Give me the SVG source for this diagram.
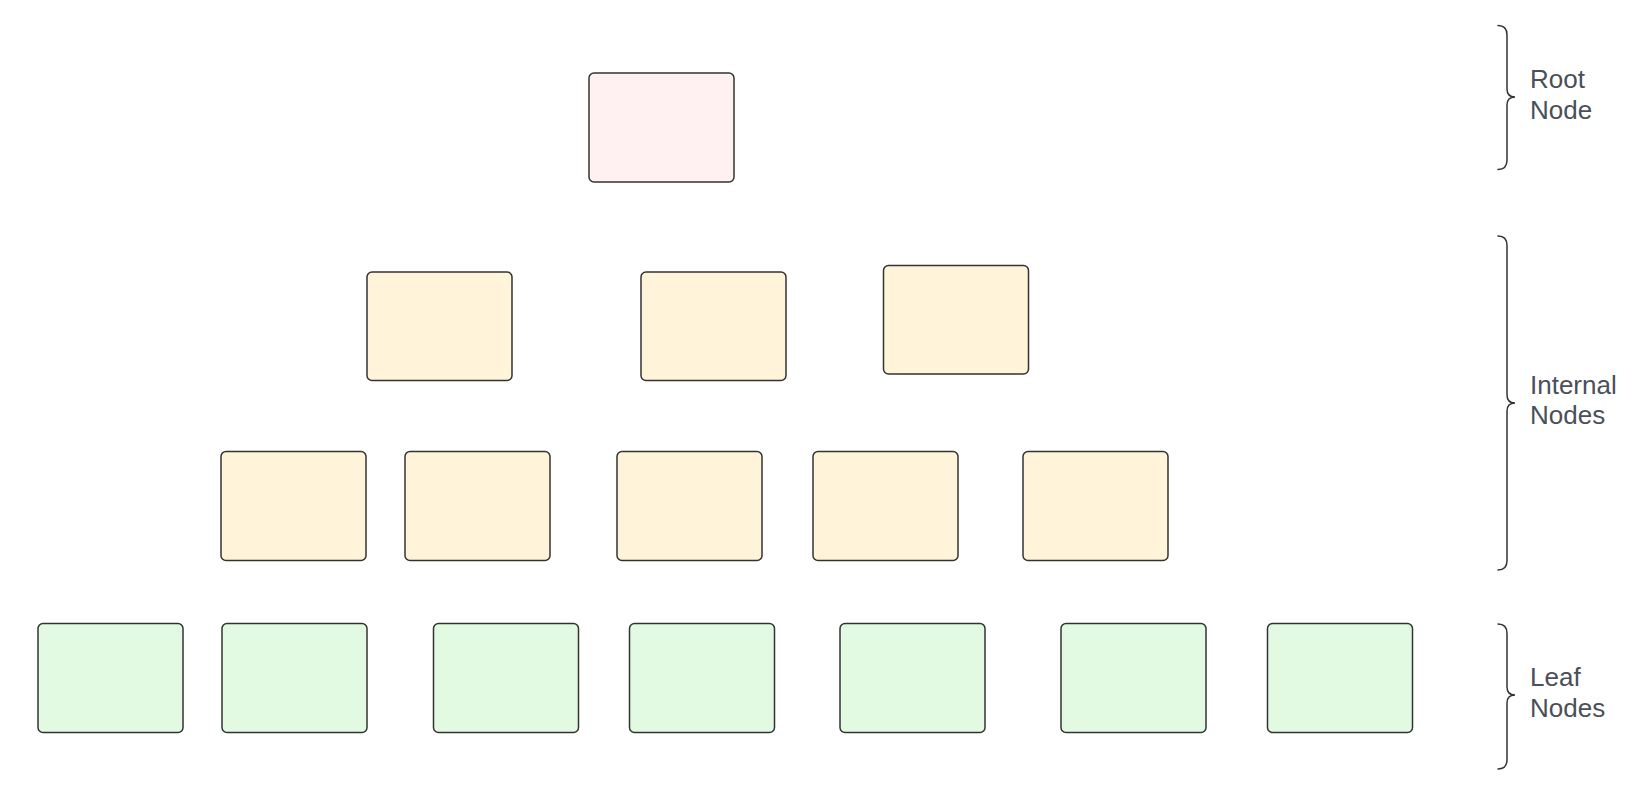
<svg xmlns="http://www.w3.org/2000/svg" width="1640" height="800" viewBox="0 0 1640 800">
<style>
.node rect{stroke:#333333;stroke-width:1.5;}
.root rect{fill:#fff0f1;}
.internal rect{fill:#fff3da;}
.leaf rect{fill:#e2fae2;}
.brace{fill:none;stroke:#333333;stroke-width:1.5;stroke-linecap:round;}
.lbl{font-family:"Liberation Sans",Arial,sans-serif;font-size:26px;fill:#4a4f59;}
</style>
<rect width="1640" height="800" fill="#ffffff"/>
<g id="root-node" class="node root"><rect x="589" y="73" width="145" height="109" rx="5"/></g>
<g id="internal-1" class="node internal"><rect x="367" y="272" width="145" height="108.5" rx="5"/></g>
<g id="internal-2" class="node internal"><rect x="641" y="272" width="145" height="108.5" rx="5"/></g>
<g id="internal-3" class="node internal"><rect x="883.5" y="265.5" width="145" height="108.5" rx="5"/></g>
<g id="internal-4" class="node internal"><rect x="221" y="451.5" width="145" height="109" rx="5"/></g>
<g id="internal-5" class="node internal"><rect x="405" y="451.5" width="145" height="109" rx="5"/></g>
<g id="internal-6" class="node internal"><rect x="617" y="451.5" width="145" height="109" rx="5"/></g>
<g id="internal-7" class="node internal"><rect x="813" y="451.5" width="145" height="109" rx="5"/></g>
<g id="internal-8" class="node internal"><rect x="1023" y="451.5" width="145" height="109" rx="5"/></g>
<g id="leaf-1" class="node leaf"><rect x="38" y="623.5" width="145" height="109" rx="5"/></g>
<g id="leaf-2" class="node leaf"><rect x="222" y="623.5" width="145" height="109" rx="5"/></g>
<g id="leaf-3" class="node leaf"><rect x="433.5" y="623.5" width="145" height="109" rx="5"/></g>
<g id="leaf-4" class="node leaf"><rect x="629.5" y="623.5" width="145" height="109" rx="5"/></g>
<g id="leaf-5" class="node leaf"><rect x="840" y="623.5" width="145" height="109" rx="5"/></g>
<g id="leaf-6" class="node leaf"><rect x="1061" y="623.5" width="145" height="109" rx="5"/></g>
<g id="leaf-7" class="node leaf"><rect x="1267.5" y="623.5" width="145" height="109" rx="5"/></g>
<g id="connectors">
<path class="brace" d="M1498,25.5 Q1507,25.5 1507,35 L1507,89 Q1507,97 1515,97 Q1507,97 1507,105 L1507,160 Q1507,169.5 1498,169.5"/>
<path class="brace" d="M1498,236 Q1507,236 1507,245.5 L1507,395 Q1507,403 1515,403 Q1507,403 1507,411 L1507,560.5 Q1507,570 1498,570"/>
<path class="brace" d="M1498,624 Q1507,624 1507,633.5 L1507,687 Q1507,695 1515,695 Q1507,695 1507,703 L1507,759.5 Q1507,769 1498,769"/>
</g>
<g id="labels">
<text class="lbl" x="1530" y="88">Root</text>
<text class="lbl" x="1530" y="118.5">Node</text>
<text class="lbl" x="1530" y="393.5">Internal</text>
<text class="lbl" x="1530" y="424">Nodes</text>
<text class="lbl" x="1530" y="686">Leaf</text>
<text class="lbl" x="1530" y="716.5">Nodes</text>
</g>
</svg>
